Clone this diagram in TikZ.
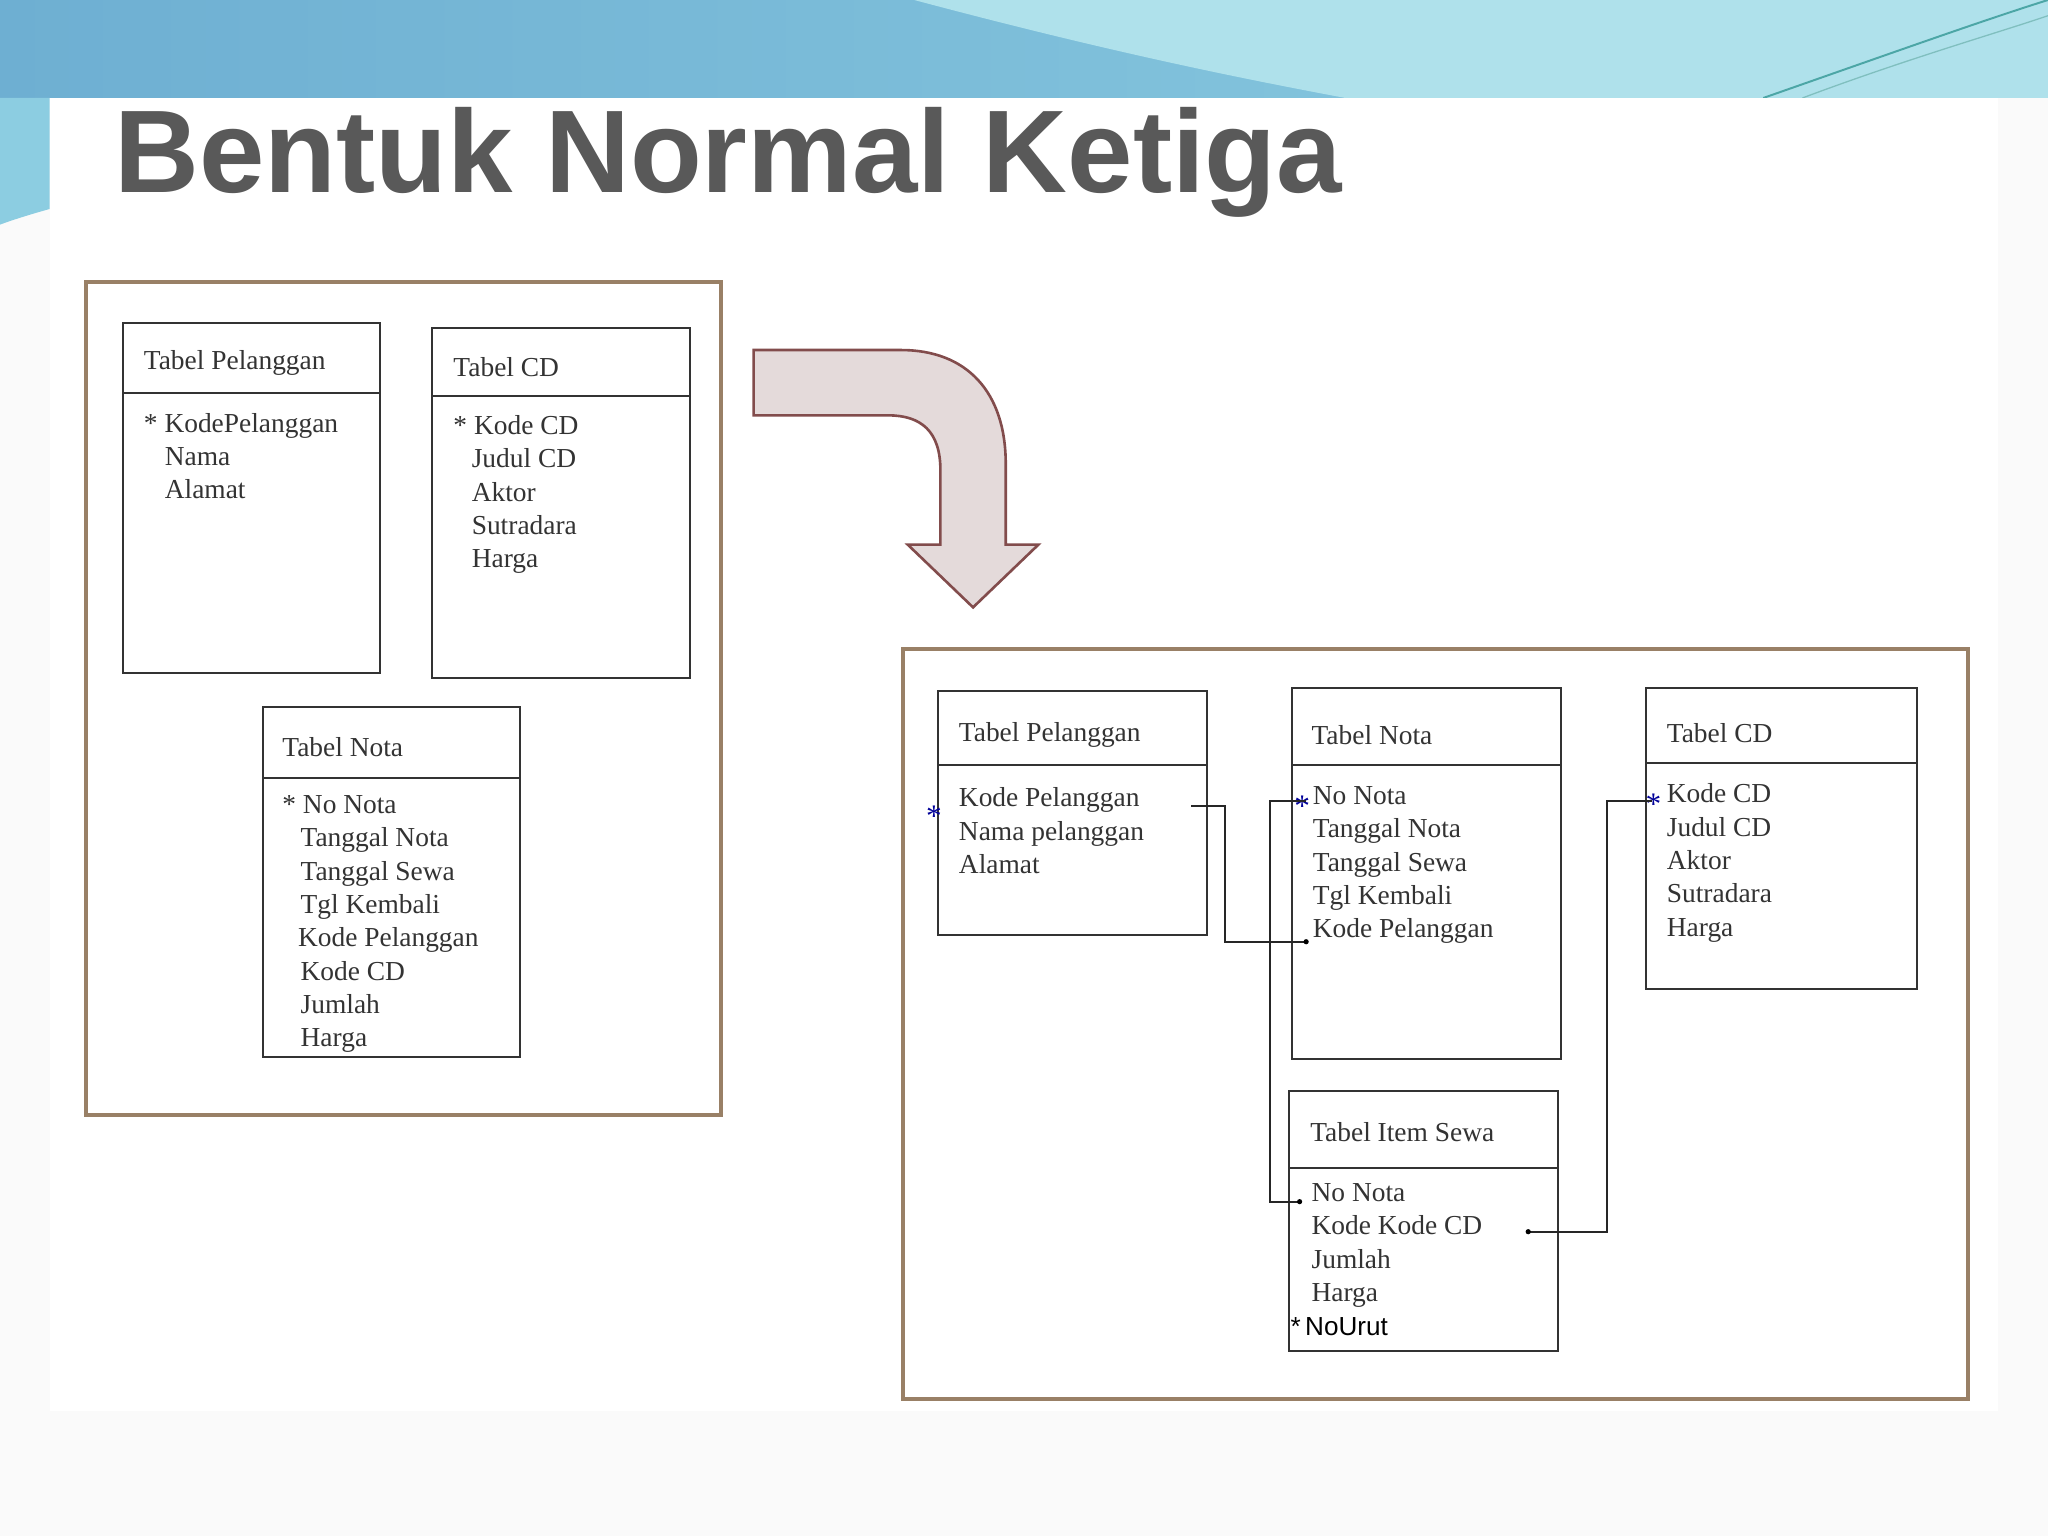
\documentclass[tikz,border=0pt]{standalone}
\usepackage{fontspec}
\setmainfont{Liberation Serif}
\newfontfamily\titlefont{Liberation Sans}
\definecolor{bandA}{RGB}{110,175,210}
\definecolor{bandB}{RGB}{140,205,225}
\definecolor{bandC}{RGB}{175,225,235}
\begin{document}
\begin{tikzpicture}[x=1pt,y=-1pt,
  frame/.style={draw=brown!40!gray, line width=3pt},
  tbl/.style={draw=black!80, line width=1.5pt},
  tt/.style={anchor=west, font=\fontsize{21}{21}\selectfont, text=black!80, inner sep=0},
  fl/.style={anchor=north west, font=\fontsize{21}{25.5}\selectfont, text=black!80, inner sep=0, align=left},
  star/.style={text=blue!60!black, font=\fontsize{24}{24}\selectfont, inner sep=0},
  con/.style={draw=black!85, line width=1.5pt}]
\useasboundingbox (0,0) rectangle (1568,1176);
\fill[gray!4] (0,0) rectangle (1568,1176);
% top band
\shade[left color=bandA, right color=bandB] (0,0) rectangle (1568,75);
\fill[bandC] (700,0) .. controls (850,40) and (950,60) .. (1030,75) -- (1568,75) -- (1568,0) -- cycle;
\fill[bandB] (0,75) -- (38,75) -- (38,160) .. controls (20,165) and (5,170) .. (0,172) -- cycle;
\draw[teal!70, line width=1.5pt] (1350,75) .. controls (1450,40) and (1520,15) .. (1568,0);
\draw[teal!50, line width=1pt] (1380,75) .. controls (1460,45) and (1530,25) .. (1568,12);
\fill[white] (38,75) rectangle (1530,1080);
\node[anchor=west, font=\titlefont\bfseries\fontsize{90}{90}\selectfont, text=black!65] (title) at (84,124) {Bentuk Normal Ketiga};
% left frame
\draw[frame] (66,216) rectangle (552,854);
% Tabel Pelanggan left
\draw[tbl] (94,247) rectangle (291,515); \draw[tbl] (94,301) -- (291,301);
\node[tt] (lp) at (110,278) {Tabel Pelanggan};
\node[fl] (lpf) at (110,316) {* KodePelanggan\\\hspace*{16pt}Nama\\\hspace*{16pt}Alamat};
% Tabel CD left
\draw[tbl] (331,251) rectangle (528,519); \draw[tbl] (331,303) -- (528,303);
\node[tt] (lc) at (347,281) {Tabel CD};
\node[fl] (lcf) at (347,318) {* Kode CD\\\hspace*{14pt}Judul CD\\\hspace*{14pt}Aktor\\\hspace*{14pt}Sutradara\\\hspace*{14pt}Harga};
% Tabel Nota left
\draw[tbl] (201,541) rectangle (398,809); \draw[tbl] (201,596) -- (398,596);
\node[tt] (ln) at (216,572) {Tabel Nota};
\node[fl] (lnf) at (216,609) {* No Nota\\\hspace*{14pt}Tanggal Nota\\\hspace*{14pt}Tanggal Sewa\\\hspace*{14pt}Tgl Kembali\\\hspace*{12pt}Kode Pelanggan\\\hspace*{14pt}Kode CD\\\hspace*{14pt}Jumlah\\\hspace*{14pt}Harga};
% big arrow
\fill[red!15!gray!25, draw=red!30!black!70, line width=2pt] (577,268) -- (690,268) .. controls (740,268) and (770,300) .. (770,355) -- (770,417) -- (795,417) -- (745,465) -- (695,417) -- (720,417) -- (720,360) .. controls (720,330) and (705,318) .. (680,318) -- (577,318) -- cycle;
% right frame
\draw[frame] (691,497) rectangle (1507,1071);
% Tabel Pelanggan right
\draw[tbl] (718,529) rectangle (924,716); \draw[tbl] (718,586) -- (924,586);
\node[tt] (rp) at (734,563) {Tabel Pelanggan};
\node[fl] (rpf) at (734,603) {Kode Pelanggan\\Nama pelanggan\\Alamat};
\node[star] (st1) at (715,625) {*};
% Tabel Nota right
\draw[tbl] (989,527) rectangle (1195,811); \draw[tbl] (989,586) -- (1195,586);
\node[tt] (rn) at (1004,563) {Tabel Nota};
\node[fl] (rnf) at (1005,602) {No Nota\\Tanggal Nota\\Tanggal Sewa\\Tgl Kembali\\Kode Pelanggan};
\node[star] (st2) at (997,617) {*};
% Tabel CD right
\draw[tbl] (1260,527) rectangle (1468,757); \draw[tbl] (1260,584) -- (1468,584);
\node[tt] (rc) at (1276,561) {Tabel CD};
\node[fl] (rcf) at (1276,600) {Kode CD\\Judul CD\\Aktor\\Sutradara\\Harga};
\node[star] (st3) at (1266,616) {*};
% Tabel Item Sewa
\draw[tbl] (987,835) rectangle (1193,1034); \draw[tbl] (987,894) -- (1193,894);
\node[tt] (ri) at (1003,867) {Tabel Item Sewa};
\node[fl] (rif) at (1004,906) {No Nota\\Kode Kode CD\\Jumlah\\Harga};
\node[anchor=west, inner sep=0, font=\titlefont\fontsize{20}{20}\selectfont] (nu) at (988,1016) {*\,NoUrut};
% connectors
\coordinate (a1) at (912,617); \coordinate (a2) at (1000,721);
\draw[con] (a1) -- (938,617) |- (a2); \fill (a2) circle (2pt);
\coordinate (b1) at (1000,613); \coordinate (b2) at (995,920);
\draw[con] (b1) -- (972,613) |- (b2); \fill (b2) circle (2pt);
\coordinate (c1) at (1170,943); \coordinate (c2) at (1265,613);
\draw[con] (c1) -- (1230,943) |- (c2); \fill (c1) circle (2pt);
\end{tikzpicture}
\end{document}
